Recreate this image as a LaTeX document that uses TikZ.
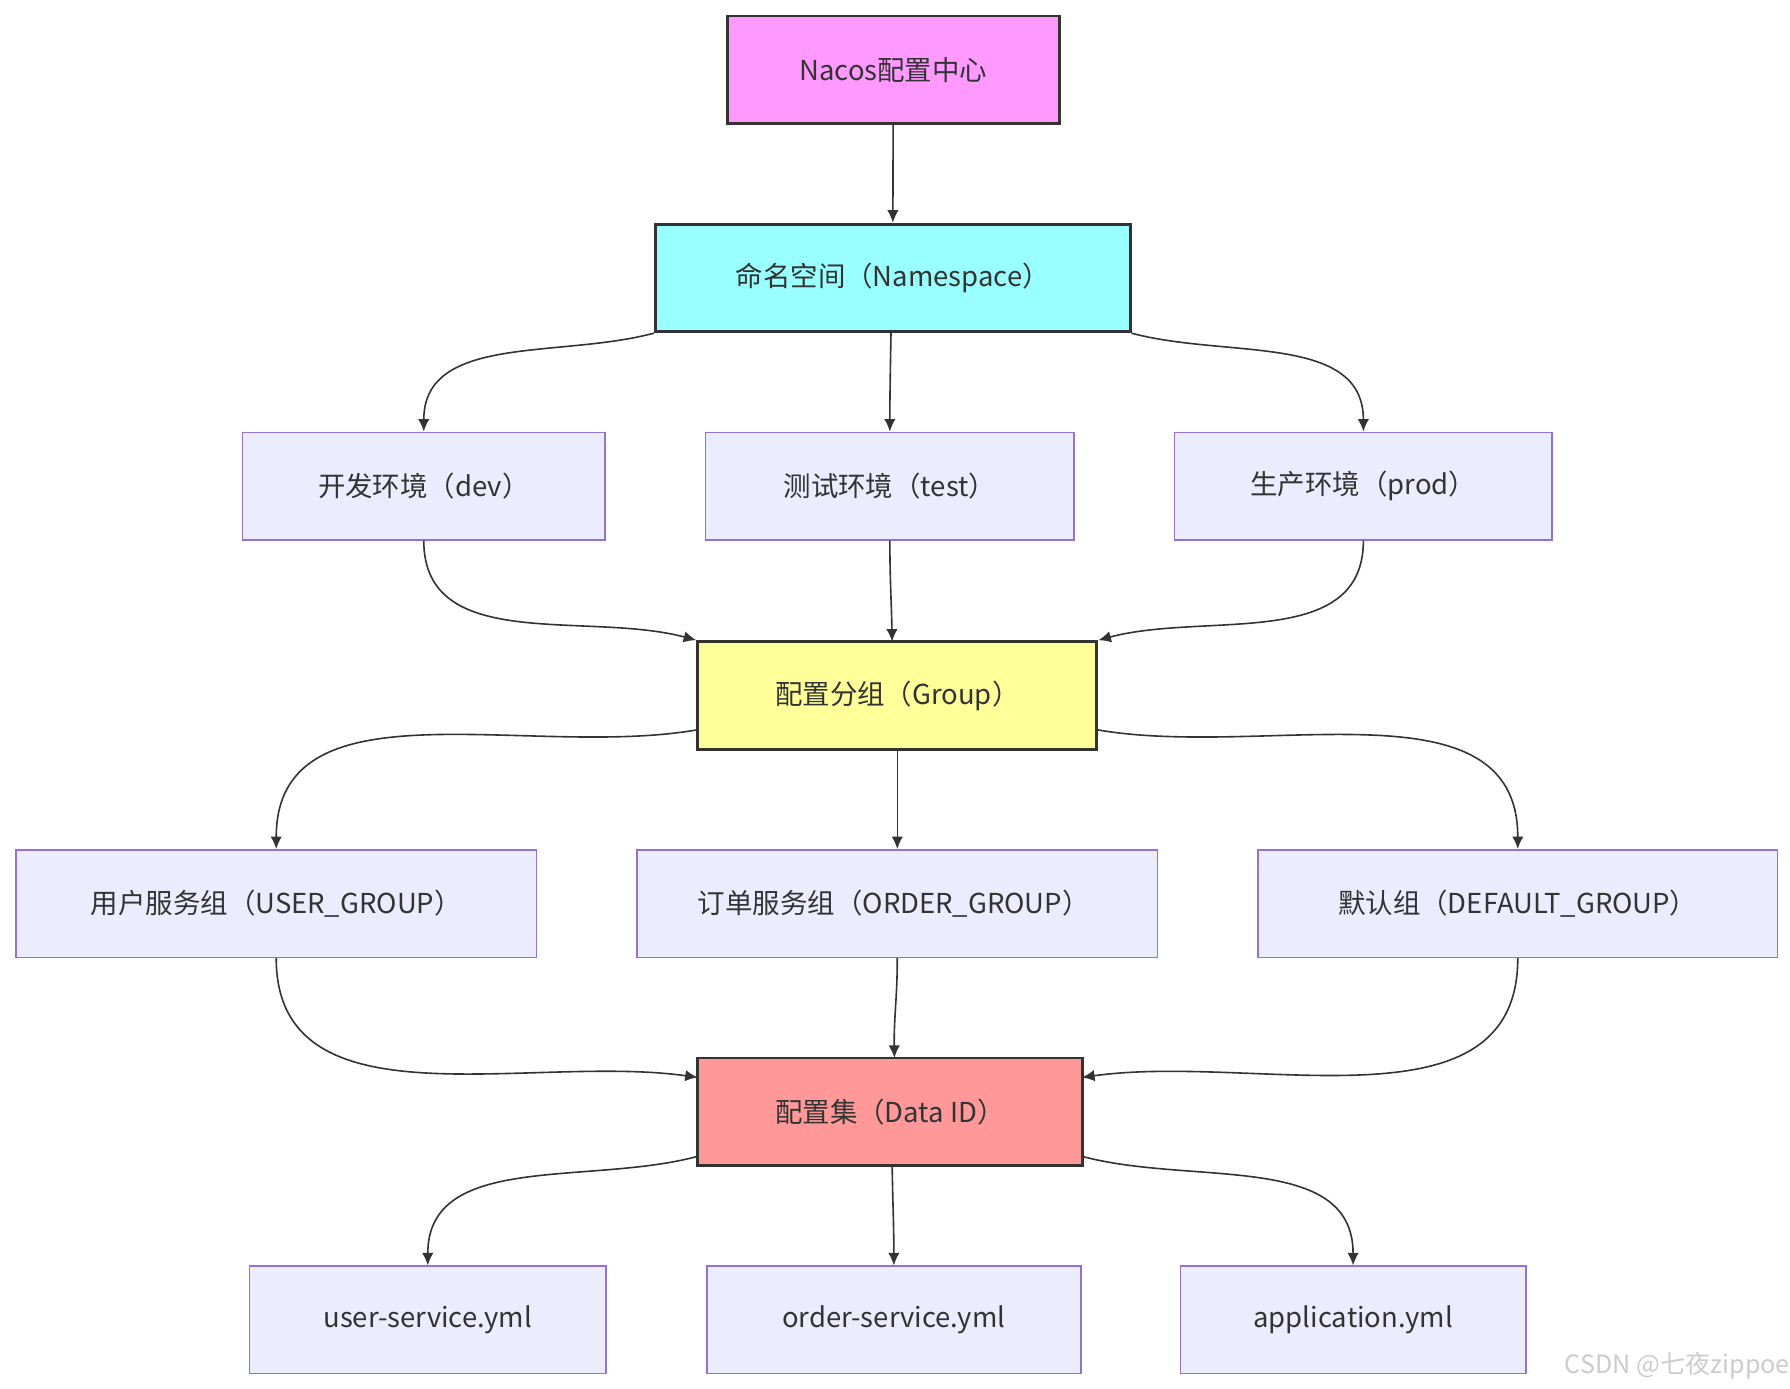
\documentclass[tikz,border=0pt]{standalone}
\usepackage{fontspec}
\setmainfont{Noto Sans CJK SC}
\usetikzlibrary{arrows.meta}
\definecolor{txt}{HTML}{333333}
\definecolor{lav}{HTML}{ECECFF}
\definecolor{lavb}{HTML}{9370DB}
\tikzset{
 box/.style={draw=lavb,fill=lav,line width=1.3pt,text=txt,inner sep=0pt,font=\fontsize{24}{28}\selectfont},
 bold/.style={draw=txt,line width=2.6pt,text=txt,inner sep=0pt,font=\fontsize{24}{28}\selectfont},
 conn/.style={draw=txt,line width=1.4pt,-{Latex[length=11pt,width=10pt]}}
}
\newcommand{\bx}[6]{\node[#1,minimum width=#4pt-#3pt,minimum height=94pt] (#2) at ({(#3+#4)/2},#5) {#6};}
\begin{document}
\begin{tikzpicture}[x=1pt,y=-1pt]
\useasboundingbox (0,0) rectangle (1565,1214);
\bx{bold,fill={rgb,255:red,255;green,153;blue,255}}{nacos}{636}{926}{61}{Nacos配置中心}
\bx{bold,fill={rgb,255:red,153;green,255;blue,255}}{ns}{573}{988}{243}{命名空间（Namespace）}
\bx{box}{dev}{212}{529}{425}{开发环境（dev）}
\bx{box}{test}{617}{939}{425}{测试环境（test）}
\bx{box}{prod}{1027}{1357}{425}{生产环境（prod）}
\bx{bold,fill={rgb,255:red,255;green,255;blue,153}}{grp}{610}{959}{608}{配置分组（Group）}
\bx{box}{ug}{14}{469}{790}{用户服务组（USER\_GROUP）}
\node[box,minimum width=455pt,minimum height=94pt] (og) at (784.5,790) {};
\begin{scope}
\clip (610,760) rectangle (960,820);
\node[text=txt,font=\fontsize{24}{28}\selectfont,anchor=west,inner sep=0pt] at (610,790) {订单服务组（ORDER\_GROUP）};
\end{scope}
\bx{box}{dg}{1100}{1554}{790}{默认组（DEFAULT\_GROUP）}
\bx{bold,fill={rgb,255:red,255;green,153;blue,153}}{did}{610}{946}{972}{配置集（Data ID）}
\bx{box}{f1}{218}{530}{1154}{user-service.yml}
\bx{box}{f2}{618}{945}{1154}{order-service.yml}
\bx{box}{f3}{1032}{1334}{1154}{application.yml}
\node[text=black!20,font=\fontsize{22}{26}\selectfont,anchor=south east,inner sep=0pt] (wm) at (1565,1206) {CSDN @七夜zippoe};

\draw[conn] (nacos) -- (ns);
\draw[conn] (ns.south west) to[out=-165,in=90] (dev.north);
\draw[conn] (779,291) to[out=-91,in=90] (test.north);
\draw[conn] (ns.south east) to[out=-15,in=90] (prod.north);
\draw[conn] (dev.south) to[out=-90,in=165] (grp.north west);
\draw[conn] (test.south) to[out=-90,in=91] (780,561);
\draw[conn] (prod.south) to[out=-90,in=15] (grp.north east);
\draw[conn] (610,638) to[out=-170,in=90] (ug.north);
\draw[conn] (grp.south) -- (og.north);
\draw[conn] (959,638) to[out=-10,in=90] (dg.north);
\draw[conn] (ug.south) to[out=-90,in=172] (610,942);
\draw[conn] (og.south) to[out=-90,in=91] (782,925);
\draw[conn] (dg.south) to[out=-90,in=8] (946,942);
\draw[conn] (610,1011) to[out=-165,in=90] (f1.north);
\draw[conn] (780,1020) to[out=-89,in=90] (f2.north);
\draw[conn] (946,1011) to[out=-15,in=90] (f3.north);
\end{tikzpicture}
\end{document}
